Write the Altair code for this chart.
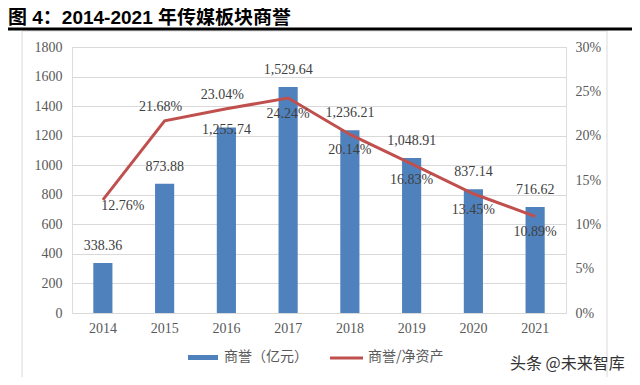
import altair as alt
import pandas as pd

years = ["2014", "2015", "2016", "2017", "2018", "2019", "2020", "2021"]
goodwill = [338.36, 873.88, 1255.74, 1529.64, 1236.21, 1048.91, 837.14, 716.62]
ratio = [12.76, 21.68, 23.04, 24.24, 20.14, 16.83, 13.45, 10.89]
left_ticks = [0, 200, 400, 600, 800, 1000, 1200, 1400, 1600, 1800]
right_ticks = [0, 5, 10, 15, 20, 25, 30]

title_text = "图 4：2014-2021 年传媒板块商誉"
legend_bar = "商誉（亿元）"
legend_line = "商誉/净资产"
watermark = "头条 @未来智库"

df = pd.DataFrame({"year": years, "goodwill": goodwill, "ratio": ratio})

BLUE = "#4F81BD"
RED = "#C0504D"
SERIF = "Liberation Serif, Noto Sans CJK SC"
W, H = 494, 266

base = alt.Chart(df)
x = alt.X("year:N", sort=years, title=None,
          scale=alt.Scale(paddingInner=0.69, paddingOuter=0.345),
          axis=alt.Axis(labelAngle=0, ticks=False, domain=False, labelPadding=8,
                        labelFont=SERIF, labelFontSize=14, labelColor="#595959"))

yl = alt.Y("goodwill:Q", title=None,
           scale=alt.Scale(domain=[0, 1800], nice=False),
           axis=alt.Axis(values=left_ticks, format="d", ticks=False, domain=False, labelPadding=10,
                         gridColor="#d9d9d9", labelFont=SERIF, labelFontSize=14,
                         labelColor="#595959"))

bars = base.mark_bar(color=BLUE).encode(x=x, y=yl)
bar_txt = base.mark_text(font=SERIF, fontSize=14, color="#404040", dy=-17).encode(
    x=x, y=yl, text=alt.Text("goodwill:Q", format=",.2f")
).transform_filter(alt.FieldOneOfPredicate(field="year", oneOf=[y for y in years if y != "2016"]))
bar_txt2 = base.mark_text(font=SERIF, fontSize=14, color="#404040", dy=3).encode(
    x=x, y=yl, text=alt.Text("goodwill:Q", format=",.2f")
).transform_filter(alt.FieldOneOfPredicate(field="year", oneOf=["2016"]))

yr = alt.Y("ratio:Q", title=None,
           scale=alt.Scale(domain=[0, 30], nice=False),
           axis=alt.Axis(orient="right", values=right_ticks, ticks=False, domain=False, grid=False,
                         labelPadding=9, labelExpr="datum.value + '%'", labelFont=SERIF,
                         labelFontSize=14, labelColor="#595959"))

line = base.mark_line(color=RED, strokeWidth=3).encode(x=x, y=yr)
lbl = base.transform_calculate(lab="format(datum.ratio, '.2f') + '%'")
lt_below = lbl.mark_text(font=SERIF, fontSize=14, color="#404040", dy=16).encode(
    x=x, y=yr, text="lab:N"
).transform_filter(alt.FieldOneOfPredicate(field="year", oneOf=["2017", "2018", "2019", "2020", "2021"]))
lt_above = lbl.mark_text(font=SERIF, fontSize=14, color="#404040", dy=-14, dx=-4).encode(
    x=x, y=yr, text="lab:N"
).transform_filter(alt.FieldOneOfPredicate(field="year", oneOf=["2015", "2016"]))
lt_first = lbl.mark_text(font=SERIF, fontSize=14, color="#404040", dy=6, dx=20).encode(
    x=x, y=yr, text="lab:N"
).transform_filter(alt.FieldOneOfPredicate(field="year", oneOf=["2014"]))

bar_layer = alt.layer(bars, bar_txt, bar_txt2)
line_layer = alt.layer(line, lt_below, lt_above, lt_first)

dec = alt.Chart(pd.DataFrame({"k": [0]}))
frame = dec.mark_rect(filled=False, stroke="#d9d9d9", strokeWidth=1).encode(
    x=alt.value(-50), x2=alt.value(535), y=alt.value(-16), y2=alt.value(340))
title = dec.mark_text(text=title_text, font="Liberation Sans, Noto Sans CJK SC", fontSize=19,
                      fontWeight="bold", color="#000000", align="left", baseline="middle").encode(
    x=alt.value(-64), y=alt.value(-29))
title_rule = dec.mark_rule(color="#000000", strokeWidth=3).encode(
    x=alt.value(-64), x2=alt.value(560), y=alt.value(-18))
leg_rect = dec.mark_rect(color=BLUE).encode(
    x=alt.value(116), x2=alt.value(146), y=alt.value(308), y2=alt.value(313))
leg_t1 = dec.mark_text(text=legend_bar, font="Noto Sans CJK SC", fontSize=14, color="#595959",
                       align="left", baseline="middle").encode(x=alt.value(152), y=alt.value(310))
leg_line = dec.mark_rule(color=RED, strokeWidth=3).encode(
    x=alt.value(258), x2=alt.value(291), y=alt.value(311))
leg_t2 = dec.mark_text(text=legend_line, font="Noto Sans CJK SC", fontSize=14, color="#595959",
                       align="left", baseline="middle").encode(x=alt.value(296), y=alt.value(310))
wm = dec.mark_text(text=watermark, font="Noto Sans CJK SC", fontSize=16, color="#333333",
                   align="left", baseline="middle").encode(x=alt.value(438), y=alt.value(317))

main = alt.layer(bar_layer, line_layer).resolve_scale(y="independent")

chart = alt.layer(frame, main, title, title_rule, leg_rect, leg_t1, leg_line, leg_t2, wm).properties(
    width=W, height=H,
    autosize=alt.AutoSizeParams(type="none"),
    padding={"left": 64, "top": 39, "right": 66, "bottom": 64},
).configure_view(stroke=None).configure(background="white")

chart.save("out.html", embed_options={"renderer": "svg", "actions": False})
